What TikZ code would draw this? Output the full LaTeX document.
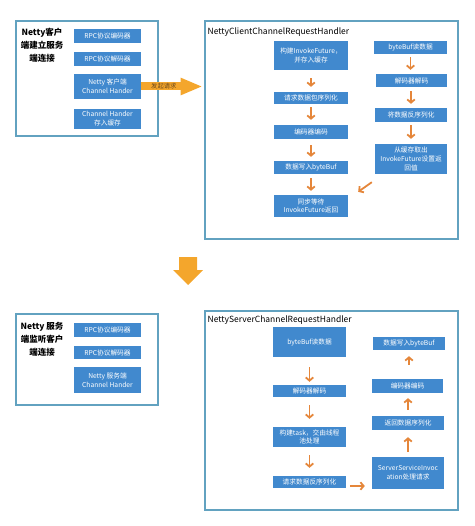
\documentclass[tikz,border=0pt]{standalone}
\usepackage{fontspec}
\setmainfont{Noto Sans CJK SC}
\usetikzlibrary{arrows.meta,calc}
\definecolor{boxblue}{HTML}{4189CE}
\definecolor{frameblue}{HTML}{62A2C0}
\definecolor{arrorange}{HTML}{E5863A}
\definecolor{bigorange}{HTML}{F4A62C}
\definecolor{labeldark}{HTML}{6B4A1E}
\begin{document}
\begin{tikzpicture}[x=1pt,y=-1pt,
  frame/.style={draw=frameblue, line width=2pt, fill=white, inner sep=0pt},
  box/.style={fill=boxblue, text=white, font=\fontsize{6.7}{8.8}\selectfont, align=center, inner sep=1pt},
  ttl/.style={font=\fontsize{8.5}{10}\selectfont, anchor=west, inner sep=0pt},
  sidettl/.style={font=\bfseries\fontsize{8.5}{12.8}\selectfont, align=center, inner sep=0pt},
  oarr/.style={draw=arrorange, line width=1.8pt, -{Straight Barb[length=3.2pt,width=7.5pt]}}
]
\useasboundingbox (0,0) rectangle (474,526);

% ---------- frames ----------
\node[frame, minimum width=142pt, minimum height=115pt] (fA) at (87,78.5) {};
\node[frame, minimum width=253pt, minimum height=218pt] (fB) at (331.5,130) {};
\node[frame, minimum width=142pt, minimum height=91pt] (fC) at (87,359.5) {};
\node[frame, minimum width=253pt, minimum height=199pt] (fD) at (331.5,410.5) {};

% ---------- top left ----------
\node[sidettl] (tA) at (42,45.5) {Netty客户\\端建立服务\\端连接};
\node[box, minimum width=67pt, minimum height=14pt] (e1) at (107.5,36) {RPC协议编码器};
\node[box, minimum width=67pt, minimum height=14pt] (e2) at (107.5,59) {RPC协议解码器};
\node[box, minimum width=67pt, minimum height=25pt] (e3) at (107.5,86.5) {Netty 客户端\\Channel Hander};
\node[box, minimum width=67pt, minimum height=20pt] (e4) at (107.5,119) {Channel Hander\\存入缓存};

% ---------- top right ----------
\node[ttl] (tB) at (207.5,32) {NettyClientChannelRequestHandler};
\node[box, minimum width=74pt, minimum height=29pt] (c1) at (311,55.5) {构建InvokeFuture，\\并存入缓存};
\node[box, minimum width=74pt, minimum height=12pt] (c2) at (311,98) {请求数据包序列化};
\node[box, minimum width=74pt, minimum height=14pt] (c3) at (311,132) {编码器编码};
\node[box, minimum width=74pt, minimum height=13pt] (c4) at (311,167.5) {数据写入byteBuf};
\node[box, minimum width=74pt, minimum height=22pt] (c5) at (311,206) {同步等待\\InvokeFuture返回};

\node[box, minimum width=73pt, minimum height=13pt] (d1) at (410.5,47.5) {byteBuf读数据};
\node[box, minimum width=71pt, minimum height=13pt] (d2) at (411.5,80.5) {解码器解码};
\node[box, minimum width=72pt, minimum height=14pt] (d3) at (411,115) {将数据反序列化};
\node[box, minimum width=72pt, minimum height=30pt] (d4) at (411,159) {从缓存取出\\InvokeFuture设置返\\回值};

\draw[oarr, shorten <=8pt, shorten >=5pt] (c1) -- (c2);
\draw[oarr, shorten <=3pt, shorten >=5pt] (c2) -- (c3);
\draw[oarr, shorten <=6pt, shorten >=4pt] (c3) -- (c4);
\draw[oarr, shorten <=4pt, shorten >=4pt] (c4) -- (c5);
\draw[oarr, shorten <=3pt, shorten >=4pt] (d1.south) -- (d2.north -| d1.south);
\draw[oarr, shorten <=4pt, shorten >=4pt] (d2.south -| d3.north) -- (d3.north);
\draw[oarr, shorten <=3pt, shorten >=5pt] (d3) -- (d4);
\coordinate (dgA) at ($(d4.south west)+(-3,8)$);
\coordinate (dgB) at ($(c5.north east)+(10,-3)$);
\draw[oarr] (dgA) -- (dgB);

% ---------- big arrows ----------
\draw[bigorange, line width=8pt, shorten >=1.5pt, -{Triangle[length=22pt,width=16pt]}]
  (e3.east) -- (fB.west |- e3.east)
  node[pos=0.36, text=labeldark, font=\fontsize{6.3}{7}\selectfont, inner sep=0pt] (lbl) {发起请求};
\fill[bigorange] (179,257) -- (197,257) -- (197,270) -- (203,270) -- (188,285) -- (173,270) -- (179,270) -- cycle;

% ---------- bottom left ----------
\node[sidettl] (tC) at (42,339.5) {Netty 服务\\端监听客户\\端连接};
\node[box, minimum width=67pt, minimum height=14pt] (f1) at (107.5,330) {RPC协议编码器};
\node[box, minimum width=67pt, minimum height=13pt] (f2) at (107.5,352.5) {RPC协议解码器};
\node[box, minimum width=67pt, minimum height=26pt] (f3) at (107.5,380) {Netty 服务端\\Channel Hander};

% ---------- bottom right ----------
\node[ttl] (tD) at (207.5,320) {NettyServerChannelRequestHandler};
\node[box, minimum width=73pt, minimum height=30pt] (g1) at (309.5,342) {byteBuf读数据};
\node[box, minimum width=73pt, minimum height=12pt] (g2) at (309.5,391) {解码器解码};
\node[box, minimum width=73pt, minimum height=20pt] (g3) at (309.5,437) {构建task，交由线程\\池处理};
\node[box, minimum width=73pt, minimum height=12pt] (g4) at (309.5,482) {请求数据反序列化};

\node[box, minimum width=72pt, minimum height=13pt] (h1) at (409,343.5) {数据写入byteBuf};
\node[box, minimum width=71pt, minimum height=14pt] (h2) at (407.5,386) {编码器编码};
\node[box, minimum width=72pt, minimum height=14pt] (h3) at (408,423) {返回数据序列化};
\node[box, minimum width=72pt, minimum height=32pt] (h4) at (408,473) {ServerServiceInvoc\\ation处理请求};

\draw[oarr, shorten <=10pt, shorten >=3pt] (g1) -- (g2);
\draw[oarr, shorten <=8pt, shorten >=8pt] (g2) -- (g3);
\draw[oarr, shorten <=8pt, shorten >=8pt] (g3) -- (g4);
\draw[oarr, shorten <=5pt, shorten >=7pt] (h4.north -| h3.south) -- (h3.south);
\draw[oarr, shorten <=6pt, shorten >=5pt] (h3.north) -- (h2.south -| h3.north);
\draw[oarr, shorten <=14pt, shorten >=6pt] (h2.north -| h1.south) -- (h1.south);
\draw[oarr, shorten <=4pt, shorten >=7pt] ($(g4.east)+(0,4)$) -- ($(h4.west |- g4.east)+(0,4)$);
\end{tikzpicture}
\end{document}
